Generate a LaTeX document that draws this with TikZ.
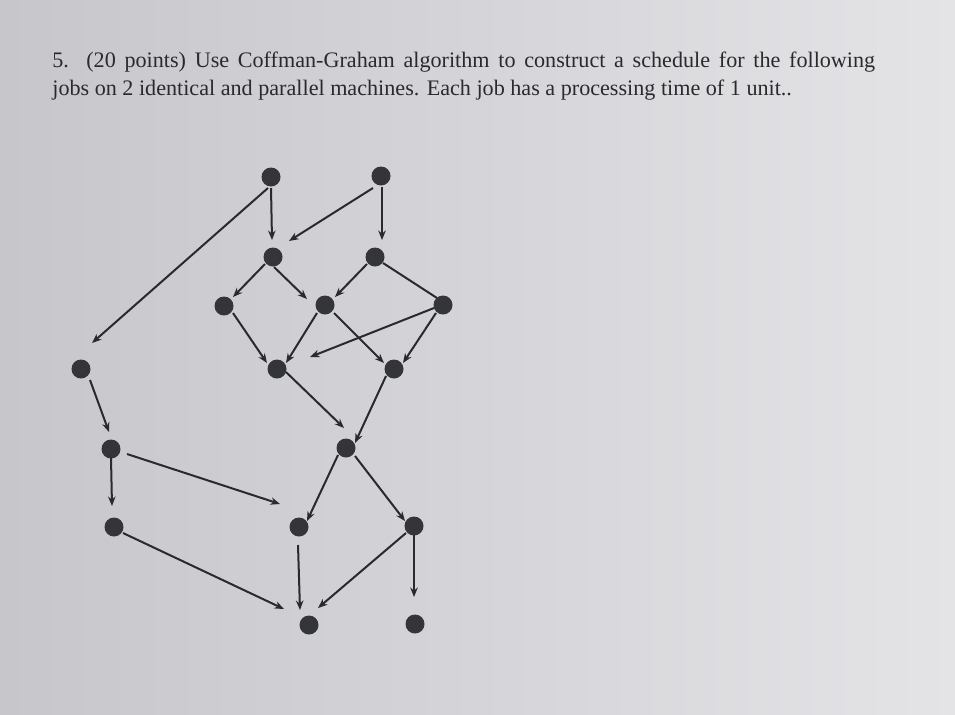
\documentclass[tikz,border=0pt]{standalone}
\usepackage{fontspec}
\setmainfont{Liberation Serif}
\usetikzlibrary{arrows.meta,calc}
\definecolor{bgL}{RGB}{198,198,203}
\definecolor{bgR}{RGB}{228,228,231}
\definecolor{ink}{RGB}{42,42,46}
\definecolor{dot}{RGB}{52,53,57}
\begin{document}
\begin{tikzpicture}[x=0.02cm,y=-0.02cm,
  job/.style={circle,fill=dot,inner sep=0pt,outer sep=0pt,minimum size=0.38cm},
  arr/.style={draw=ink,line width=0.04cm,-{Stealth[length=0.19cm,width=0.15cm]}},
  plainedge/.style={draw=ink,line width=0.04cm},
  txt/.style={anchor=base west,inner sep=0pt,text=ink,font=\fontsize{12.6}{16}\selectfont}]
\shade[left color=bgL,right color=bgR] (0,0) rectangle (955,714);
\useasboundingbox (0,0) rectangle (955,714);
\node[txt] (t1) at (52,67) {\hbox to 16.46cm{5.\ \ (20 points) Use Coffman-Graham algorithm to construct a schedule for the following}};
\node[txt] (t2) at (52,95) {jobs on 2 identical and parallel machines. Each job has a processing time of 1 unit..};
% jobs
\node[job] (A) at (271,177) {};
\node[job] (B) at (381,176) {};
\node[job] (C) at (273,257) {};
\node[job] (D) at (375,257) {};
\node[job] (E) at (224,306) {};
\node[job] (F) at (325,305) {};
\node[job] (G) at (443,305) {};
\node[job] (H) at (81,369) {};
\node[job] (I) at (277,369) {};
\node[job] (J) at (394,369) {};
\node[job] (K) at (111,449) {};
\node[job] (L) at (346,448) {};
\node[job] (M) at (114,527) {};
\node[job] (N) at (299,527) {};
\node[job] (O) at (414,526) {};
\node[job] (P) at (309,625) {};
\node[job] (Q) at (415,624) {};
% precedence arcs
\draw[arr] ($(A)+(0,11)$) -- ($(C)+(-1,-17)$);
\draw[arr] ($(B)+(1,11)$) -- ($(D)+(7,-17)$);
\draw[arr] ($(B)+(-8,12)$) -- ($(C)+(16,-16)$);
\draw[arr] ($(A)+(-3,11)$) -- ($(H)+(11,-26)$);
\draw[arr] ($(C)+(-8,7)$) -- ($(E)+(9,-9)$);
\draw[arr] ($(C)+(1,10)$) -- ($(F)+(-18,-6)$);
\draw[arr] ($(D)+(-8,7)$) -- ($(F)+(10,-8)$);
\draw[plainedge] ($(D)+(8,6)$) -- ($(G)+(-6,-7)$);
\draw[arr] ($(E)+(9,7)$) -- ($(I)+(-10,-6)$);
\draw[arr] ($(F)+(-8,8)$) -- ($(I)+(9,-6)$);
\draw[arr] ($(F)+(9,8)$) -- ($(J)+(-10,-6)$);
\draw[arr] ($(G)+(-9,3)$) -- ($(I)+(33,-12)$);
\draw[arr] ($(G)+(-7,8)$) -- ($(J)+(9,-6)$);
\draw[arr] ($(I)+(9,3)$) -- ($(L)+(-2,-20)$);
\draw[arr] ($(J)+(-8,7)$) -- ($(L)+(9,-5)$);
\draw[arr] ($(H)+(9,11)$) -- ($(K)+(-2,-17)$);
\draw[arr] ($(K)+(0,9)$) -- ($(M)+(-2,-21)$);
\draw[arr] ($(K)+(16,5)$) -- ($(N)+(-19,-23)$);
\draw[arr] ($(L)+(-8,7)$) -- ($(N)+(8,-6)$);
\draw[arr] ($(L)+(9,8)$) -- ($(O)+(-9,-5)$);
\draw[arr] ($(M)+(9,6)$) -- ($(P)+(-25,-16)$);
\draw[arr] ($(N)+(-1,18)$) -- ($(P)+(-9,-15)$);
\draw[arr] ($(O)+(-8,7)$) -- ($(P)+(9,-17)$);
\draw[arr] ($(O)+(0,9)$) -- ($(Q)+(-1,-27)$);
\end{tikzpicture}
\end{document}
